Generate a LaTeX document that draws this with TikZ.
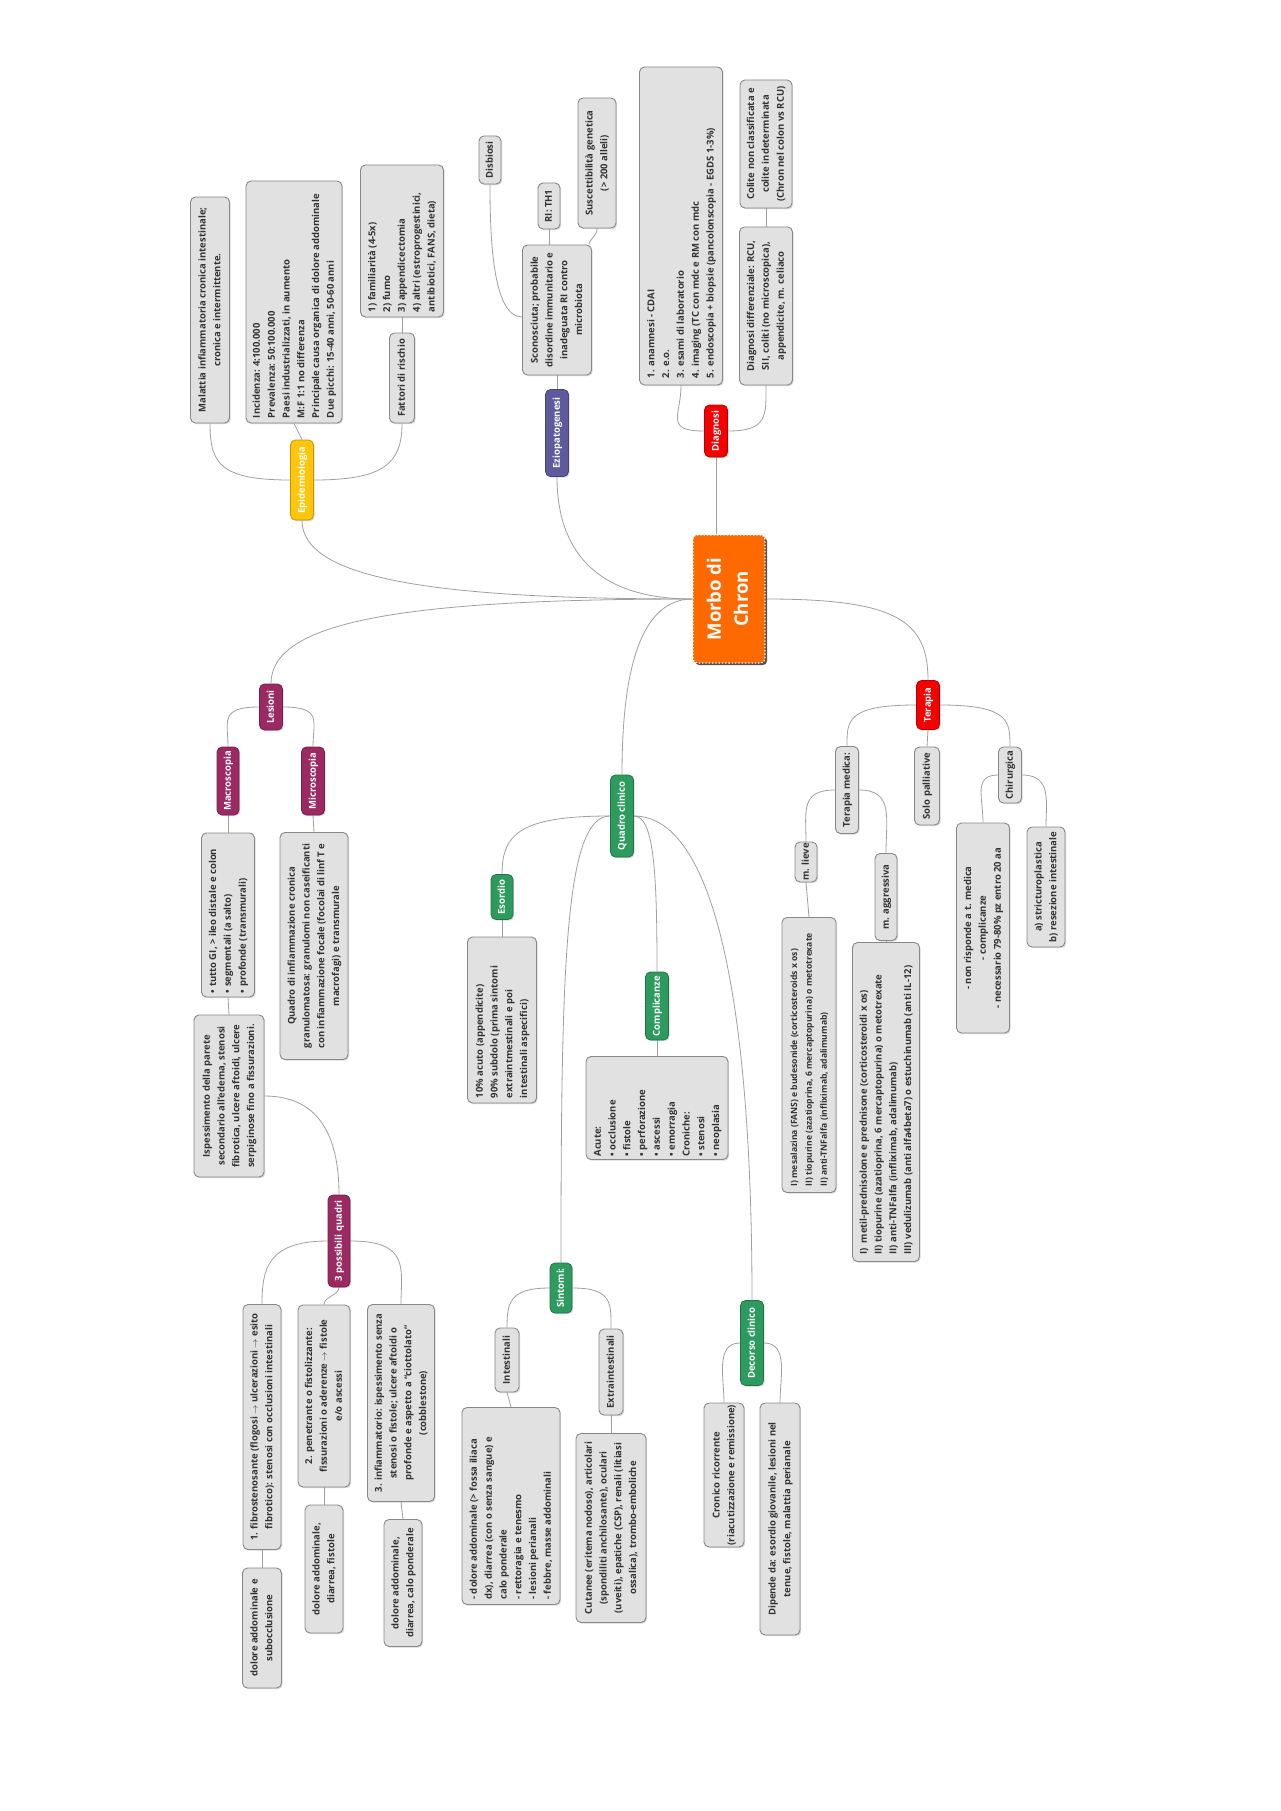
\documentclass[tikz,border=0pt]{standalone}
\usepackage{fontspec}
\setmainfont{Open Sans}
\usetikzlibrary{shadows,backgrounds}
\definecolor{boxfill}{HTML}{E1E1E1}
\definecolor{boxline}{HTML}{888888}
\definecolor{txt}{HTML}{333333}
\definecolor{conncol}{HTML}{A0A0A0}
\definecolor{cyellow}{HTML}{FFC60B}
\definecolor{cpurple}{HTML}{5E5A9C}
\definecolor{cred}{HTML}{F50000}
\definecolor{cmaroon}{HTML}{9C2A62}
\definecolor{cgreen}{HTML}{2E9B5E}
\definecolor{corange}{HTML}{FF6A00}
\newcommand{\vtext}[2]{\rotatebox{90}{\begin{tabular}{@{}#1@{}}#2\end{tabular}}}
\newcommand{\vtextL}[2]{\rotatebox{90}{\makebox[#1pt][l]{\begin{tabular}{@{}l@{}}#2\end{tabular}}}}
\newcommand{\ar}{$\rightarrow$}
\tikzset{
  sz/.style 2 args={minimum width=#1pt, minimum height=#2pt},
  gbox/.style={draw=boxline, fill=boxfill, line width=0.9pt, rounded corners=5pt, inner sep=0pt,
    text=txt, font={\bfseries\fontsize{9.5}{14.8}\selectfont},
    drop shadow={shadow xshift=1.2pt, shadow yshift=-1.2pt, opacity=0.3}},
  pill/.style={draw=#1!75!black, fill=#1, line width=0.8pt, rounded corners=5pt, inner sep=0pt,
    text=white, font={\bfseries\fontsize{9.5}{14.8}\selectfont},
    drop shadow={shadow xshift=1.2pt, shadow yshift=-1.2pt, opacity=0.3}},
  conn/.style={draw=conncol, line width=0.8pt},
}
\begin{document}
\begin{tikzpicture}[x=1pt,y=-1pt]
\useasboundingbox (0,0) rectangle (1280,1811);

% root
\node[draw=white, dotted, line width=1.3pt, fill=corange, rounded corners=4pt, sz={72}{128}, inner sep=0pt,
  text=white, font={\bfseries\fontsize{18.5}{27}\selectfont},
  drop shadow={shadow xshift=2pt, shadow yshift=-2pt, fill=black!75, opacity=0.9}] (root) at (729,599) {\vtext{c}{Morbo di\\Chron}};

% Epidemiologia
\node[pill=cyellow, sz={23}{80}] (epi) at (302,480) {\vtext{c}{Epidemiologia}};
\node[gbox, sz={39}{226}] (mal) at (210,310) {\vtext{c}{Malattia infiammatoria cronica intestinale;\\cronica e intermittente.}};
\node[gbox, sz={96}{242}] (stats) at (294,302) {\vtextL{232}{Incidenza: 4:100.000\\Prevalenza: 50:100.000\\Paesi industrializzati, in aumento\\M:F 1:1 no differenza\\Principale causa organica di dolore addominale\\Due picchi: 15-40 anni, 50-60 anni}};
\node[gbox, sz={25}{90}] (fatt) at (402,378) {\vtext{c}{Fattori di rischio}};
\node[gbox, sz={83}{152}] (risk) at (402,241) {\vtextL{142}{1) familiarità (4-5x)\\2) fumo\\3) appendicectomia\\4) altri (estroprogestinici,\\antibiotici, FANS, dieta)}};

% Eziopatogenesi
\node[pill=cpurple, sz={23}{87}] (ezio) at (557,433) {\vtext{c}{Eziopatogenesi}};
\node[gbox, sz={69}{130}] (scon) at (557,310) {\vtext{c}{Sconosciuta; probabile\\disordine immunitario e\\inadeguata RI contro\\microbiota}};
\node[gbox, sz={22}{48}] (disb) at (490,160) {\vtext{c}{Disbiosi}};
\node[gbox, sz={22}{46}] (rith) at (549,206) {\vtext{c}{RI: TH1}};
\node[gbox, sz={38}{130}] (susc) at (597,163) {\vtext{c}{Suscettibilità genetica\\(> 200 alleli)}};

% Diagnosi
\node[pill=cred, sz={23}{52}] (diag) at (716,431) {\vtext{c}{Diagnosi}};
\node[gbox, sz={83}{318}] (dlist) at (681,226) {\vtextL{304}{1. anamnesi - CDAI\\2. e.o.\\3. esami di laboratorio\\4. imaging (TC con mdc e RM con mdc\\5. endoscopia + biopsie (pancolonscopia - EGDS 1-3\%)}};
\node[gbox, sz={53}{158}] (ddiff) at (766,306) {\vtext{c}{Diagnosi differenziale: RCU,\\SII, coliti (no microscopica),\\appendicite, m. celiaco}};
\node[gbox, sz={52}{128}] (colite) at (766,144) {\vtext{c}{Colite non classificata e\\colite indeterminata\\(Chron nel colon vs RCU)}};

% Terapia
\node[pill=cred, sz={23}{49}] (ter) at (928,705) {\vtext{c}{Terapia}};
\node[gbox, sz={23}{87}] (tm) at (847,790) {\vtext{c}{Terapia medica:}};
\node[gbox, sz={25}{78}] (sp) at (927,786) {\vtext{c}{Solo palliative}};
\node[gbox, sz={23}{56}] (chir) at (1010,775) {\vtext{c}{Chirurgica}};
\node[gbox, sz={53}{210}] (nonr) at (983,928) {\vtext{c}{- non risponde a t. medica\\- complicanze\\- necessario 79-80\% pz entro 20 aa}};
\node[gbox, sz={38}{120}] (stric) at (1046,887) {\vtext{c}{a) stricturoplastica\\b) resezione intestinale}};
\node[gbox, sz={22}{40}] (lieve) at (806,862) {\vtext{c}{m. lieve}};
\node[gbox, sz={22}{87}] (agg) at (886,897) {\vtext{c}{m. aggressiva}};
\node[gbox, sz={54}{275}, font={\bfseries\fontsize{8.6}{14.8}\selectfont}] (llist) at (809,1055) {\vtextL{263}{I) mesalazina (FANS) e budesonide (corticosteroids x os)\\II) tiopurine (azatioprina, 6 mercaptopurina) o metotrexate\\II) anti-TNFalfa (infliximab, adalimumab)}};
\node[gbox, sz={67}{319}] (alist) at (886,1102) {\vtextL{305}{I)\ \ metil-prednisolone e prednisone (corticosteroidi x os)\\II) tiopurine (azatioprina, 6 mercaptopurina) o metotrexate\\II) anti-TNFalfa (infliximab, adalimumab)\\III) vedulizumab (anti alfa4beta7) o estuchinumab (anti IL-12)}};

% Lesioni
\node[pill=cmaroon, sz={23}{46}] (les) at (271,707) {\vtext{c}{Lesioni}};
\node[pill=cmaroon, sz={22}{68}] (macro) at (228,781) {\vtext{c}{Macroscopia}};
\node[pill=cmaroon, sz={23}{68}] (micro) at (313,781) {\vtext{c}{Microscopia}};
\node[gbox, sz={53}{164}] (mlist) at (228,915) {\vtextL{156}{\textbullet{} tutto GI, > ileo distale e colon\\\textbullet{} segmentali (a salto)\\\textbullet{} profonde (transmurali)}};
\node[gbox, sz={70}{162}] (isp) at (229,1096) {\vtext{c}{Ispessimento della parete\\secondario all'edema, stenosi\\fibrotica, ulcere aftoidi, ulcere\\serpiginose fino a fissurazioni.}};
\node[gbox, sz={68}{227}] (mbox) at (314,946) {\vtext{c}{Quadro di infiammazione cronica\\granulomatosa: granulomi non caseificanti\\con infiammazione focale (focolai di linf T e\\macrofagi) e transmurale}};
\node[pill=cmaroon, sz={22}{92}] (tpq) at (339,1241) {\vtext{c}{3 possibili quadri}};
\node[gbox, sz={38}{245}] (q1) at (262,1427) {\vtext{c}{1. fibrostenosante (flogosi \ar{} ulcerazioni \ar{} esito\\fibrotico): stenosi con occlusioni intestinali}};
\node[gbox, sz={39}{120}] (q1c) at (262,1628) {\vtext{c}{dolore addominale e\\subocclusione}};
\node[gbox, sz={52}{182}] (q2) at (324,1396) {\vtext{c}{2. penetrante o fistolizzante:\\fissurazioni o aderenze \ar{} fistole\\e/o ascessi}};
\node[gbox, sz={38}{128}] (q2c) at (324,1569) {\vtext{c}{dolore addominale,\\diarrea, fistole}};
\node[gbox, sz={67}{197}] (q3) at (401,1403) {\vtext{c}{3. infiammatorio: ispessimento senza\\stenosi o fistole; ulcere aftoidi o\\profonde e aspetto a “ciottolato”\\(cobblestone)}};
\node[gbox, sz={38}{127}] (q3c) at (403,1583) {\vtext{c}{dolore addominale,\\diarrea, calo ponderale}};

% Quadro clinico
\node[pill=cgreen, sz={23}{82}] (qc) at (622,816) {\vtext{c}{Quadro clinico}};
\node[pill=cgreen, sz={22}{45}] (eso) at (502,897) {\vtext{c}{Esordio}};
\node[gbox, sz={69}{166}] (esob) at (502,1020) {\vtextL{156}{10\% acuto (appendicite)\\90\% subdolo (prima sintomi\\extraintmestinali e poi\\intestinali aspecifici)}};
\node[pill=cgreen, sz={23}{68}] (comp) at (657,1006) {\vtext{c}{Complicanze}};
\node[gbox, sz={142}{103}] (compb) at (657,1108) {\vtextL{97}{Acute:\\\textbullet{} occlusione\\\textbullet{} fistole\\\textbullet{} perforazione\\\textbullet{} ascessi\\\textbullet{} emorragia\\Croniche:\\\textbullet{} stenosi\\\textbullet{} neoplasia}};
\node[pill=cgreen, sz={22}{50}] (sint) at (561,1288) {\vtext{c}{Sintomi:}};
\node[gbox, sz={24}{64}] (intest) at (507,1360) {\vtext{c}{Intestinali}};
\node[gbox, sz={24}{86}] (extra) at (611,1372) {\vtext{c}{Extraintestinali}};
\node[gbox, sz={98}{197}] (intb) at (511,1506) {\vtextL{187}{- dolore addominale (> fossa iliaca\\dx), diarrea (con o senza sangue) e\\calo ponderale\\- rettoragia e tenesmo\\- lesioni perianali\\- febbre, masse addominali}};
\node[gbox, sz={70}{189}] (extb) at (611,1528) {\vtext{c}{Cutanee (eritema nodoso), articolari\\(spondiliti anchilosante), oculari\\(uveiti), epatiche (CSP), renali (litiasi\\ossalica), trombo-emboliche}};
\node[pill=cgreen, sz={23}{85}] (dec) at (752,1343) {\vtext{c}{Decorso clinico}};
\node[gbox, sz={40}{144}] (cron) at (724,1475) {\vtext{c}{Cronico ricorrente\\(riacutizzazione e remissione)}};
\node[gbox, sz={40}{232}] (dip) at (780,1519) {\vtext{c}{Dipende da: esordio giovanile, lesioni nel\\tenue, fistole, malattia perianale}};

\begin{scope}[on background layer]
\fill[white] (0,0) rectangle (1280,1811);
% connectors from root
\draw[conn] (root.west) .. controls +(-250,0) and +(0,60) .. (epi.south);
\draw[conn] (root.west) .. controls +(-100,0) and +(0,70) .. (ezio.south);
\draw[conn] (root.west) .. controls +(-300,0) and +(0,-60) .. (les.north);
\draw[conn] (root.west) .. controls +(-60,0) and +(0,-80) .. (qc.north);
\draw[conn] (root.east) .. controls +(130,0) and +(0,-60) .. (ter.north);
\draw[conn] (diag.south) -- (diag.south |- root.north);

% Epidemiologia
\draw[conn] (epi.west) .. controls +(-70,0) and +(0,40) .. (mal.south);
\draw[conn] (epi.east) .. controls +(70,0) and +(0,40) .. (fatt.south);
\draw[conn] (epi.north) -- (stats.south);
\draw[conn] (fatt.north) -- (risk.south);

% Eziopatogenesi
\draw[conn] (ezio.north) -- (scon.south);
\draw[conn] ([yshift=-7pt]scon.west) .. controls +(-30,0) and +(0,50) .. (disb.south);
\draw[conn] (rith.south |- scon.north) -- (rith.south);
\draw[conn] ([xshift=-3pt]scon.north east) .. controls +(2,-8) and +(0,8) .. (susc.south);

% Diagnosi
\draw[conn] (diag.west) .. controls +(-40,0) and +(0,30) .. (dlist.south);
\draw[conn] (diag.east) .. controls +(40,0) and +(0,30) .. (ddiff.south);
\draw[conn] (ddiff.north) -- (colite.south);

% Terapia
\draw[conn] (ter.west) .. controls +(-70,0) and +(0,-25) .. (tm.north);
\draw[conn] (ter.south) -- (sp.north);
\draw[conn] (ter.east) .. controls +(70,0) and +(0,-25) .. (chir.north);
\draw[conn] (tm.west) .. controls +(-35,0) and +(0,-30) .. (lieve.north);
\draw[conn] (tm.east) .. controls +(35,0) and +(0,-35) .. (agg.north);
\draw[conn] (lieve.south) -- (llist.north);
\draw[conn] (agg.south) -- (alist.north);
\draw[conn] (chir.west) .. controls +(-25,0) and +(0,-25) .. (nonr.north);
\draw[conn] (chir.east) .. controls +(30,0) and +(0,-25) .. (stric.north);

% Lesioni
\draw[conn] (les.west) .. controls +(-40,0) and +(0,-25) .. (macro.north);
\draw[conn] (les.east) .. controls +(40,0) and +(0,-25) .. (micro.north);
\draw[conn] (macro.south) -- (mlist.north);
\draw[conn] (mlist.south) -- (isp.north);
\draw[conn] (micro.south) -- (mbox.north);
\draw[conn] (isp.east) .. controls +(60,0) and +(0,-50) .. (tpq.north);
\draw[conn] (tpq.west) .. controls +(-60,0) and +(0,-35) .. (q1.north);
\draw[conn] (tpq.south) .. controls +(0,8) and +(0,-8) .. (q2.north);
\draw[conn] (tpq.east) .. controls +(60,0) and +(0,-35) .. (q3.north);
\draw[conn] (q1.south) -- (q1c.north);
\draw[conn] (q2.south) -- (q2c.north);
\draw[conn] (q3.south) -- (q3c.north);

% Quadro clinico
\draw[conn] (qc.west) .. controls +(-90,0) and +(0,-40) .. (eso.north);
\draw[conn] (qc.west) .. controls +(-45,0) and +(0,-300) .. (sint.north);
\draw[conn] (qc.east) .. controls +(20,0) and +(0,-100) .. (comp.north);
\draw[conn] (qc.east) .. controls +(80,0) and +(0,-300) .. (dec.north);
\draw[conn] (eso.south) -- (esob.north);
\draw[conn] (comp.south) -- (compb.north);
\draw[conn] (sint.west) .. controls +(-40,0) and +(0,-25) .. (intest.north);
\draw[conn] (sint.east) .. controls +(40,0) and +(0,-25) .. (extra.north);
\draw[conn] (intest.south) -- (intb.north);
\draw[conn] (extra.south) -- (extb.north);
\draw[conn] (dec.west) .. controls +(-25,0) and +(0,-25) .. (cron.north);
\draw[conn] (dec.east) .. controls +(25,0) and +(0,-25) .. (dip.north);
\end{scope}
\end{tikzpicture}
\end{document}
